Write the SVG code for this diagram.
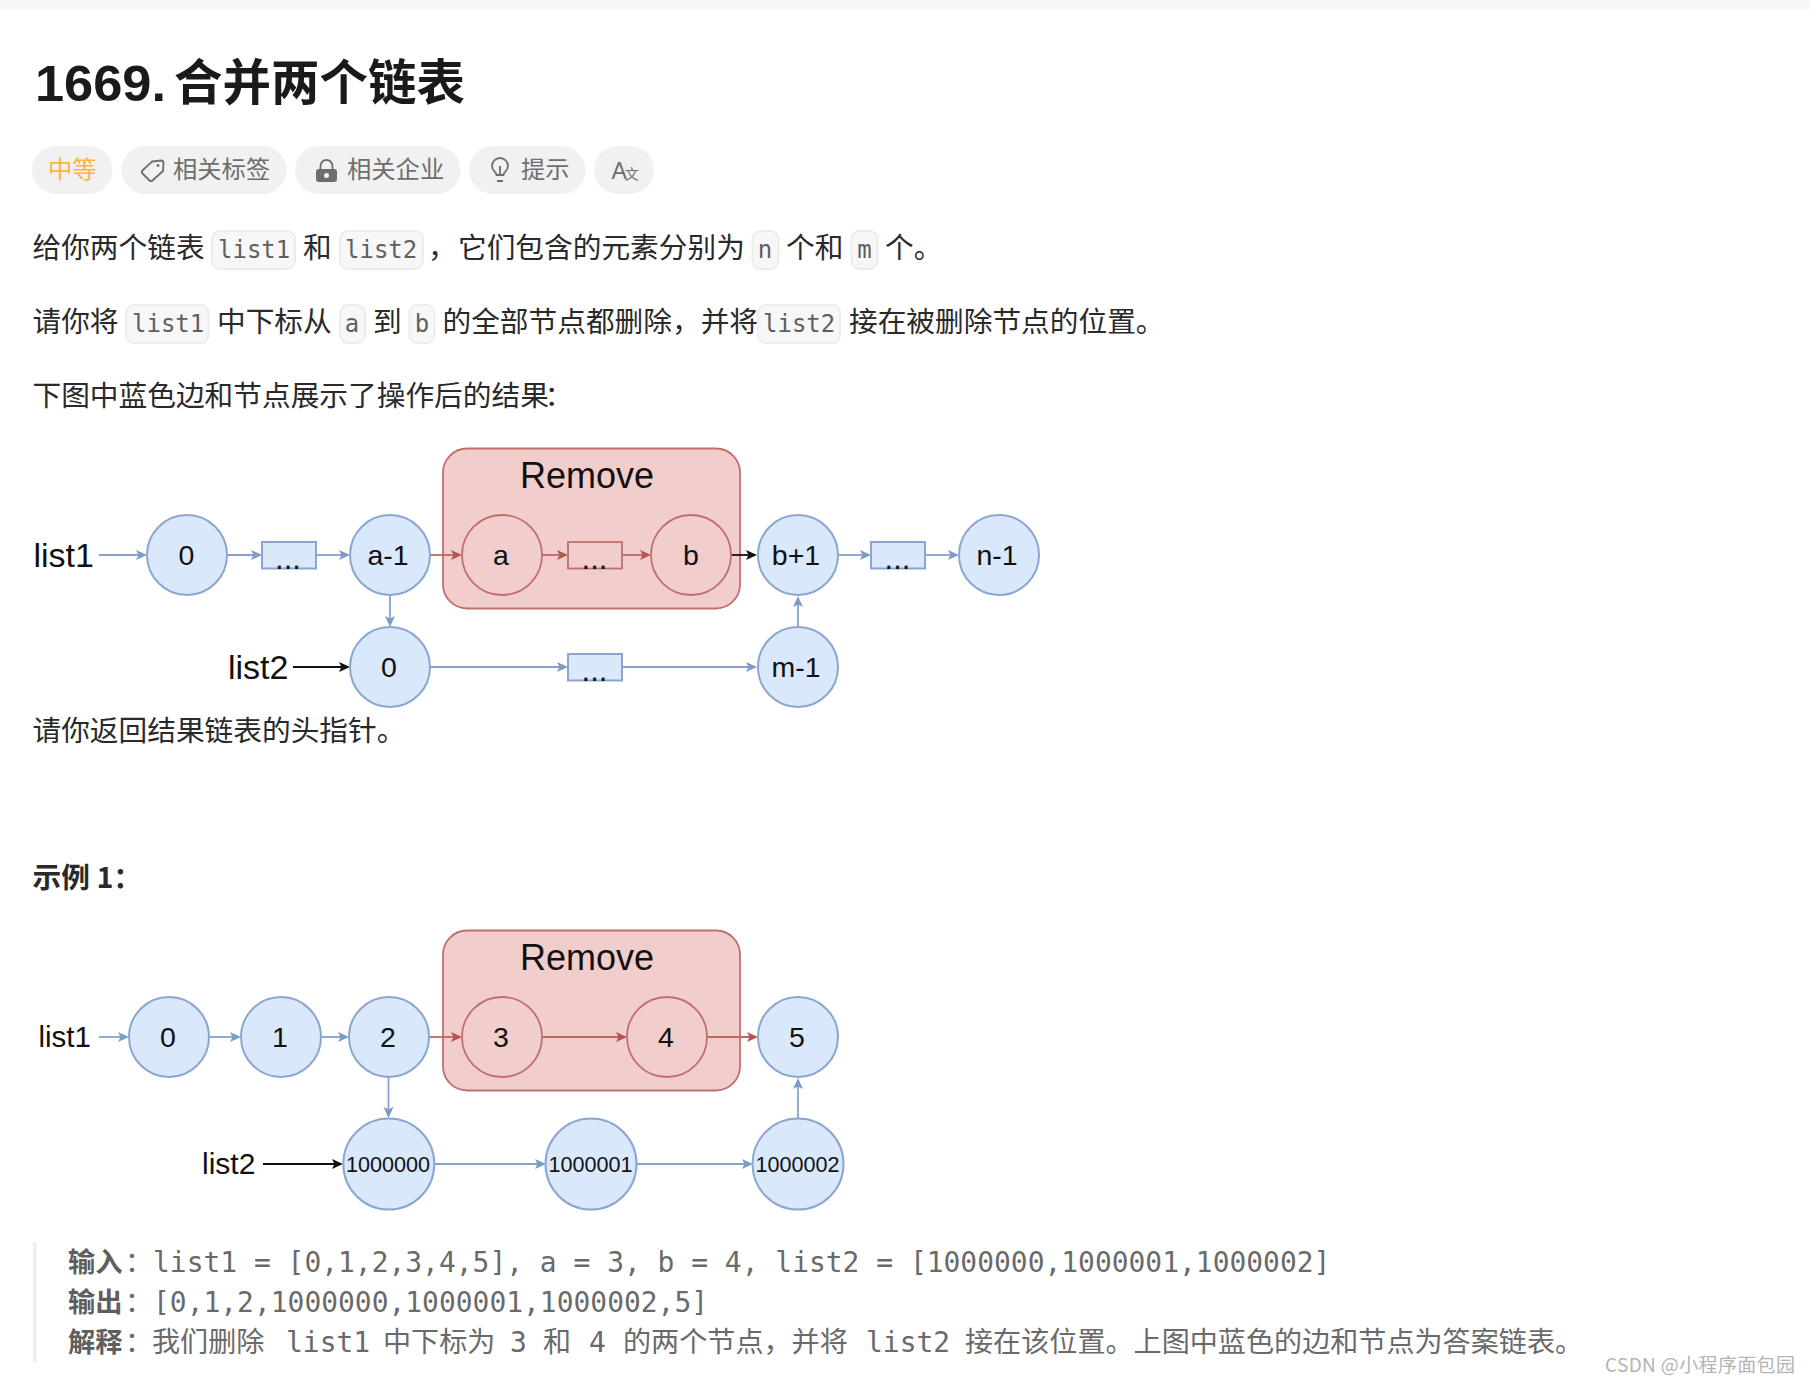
<svg xmlns="http://www.w3.org/2000/svg" width="1810" height="1384" viewBox="0 0 1810 1384">
<style>
.cjk{font-family:"Noto Sans CJK SC","Liberation Sans",sans-serif}
.body{font-family:"Noto Sans CJK SC","Liberation Sans",sans-serif;font-size:28.7px;fill:#2a2a2a}
.code{font-family:"DejaVu Sans Mono","Liberation Mono",monospace;font-size:24px;fill:#5f5f5f}
.pillc{fill:#f7f7f7;stroke:#ececec;stroke-width:2}
.tag{fill:#f1f1f2}
.tagt{font-family:"Noto Sans CJK SC",sans-serif;font-size:24.3px;fill:#6e6e6e}
.q{font-family:"DejaVu Sans Mono","Noto Sans CJK SC",monospace;font-size:27.95px;fill:#6a6a6a}
.qc{font-family:"Noto Sans CJK SC",sans-serif;font-size:28.1px;fill:#6a6a6a}
.qb{font-family:"Noto Sans CJK SC",sans-serif;font-size:27.3px;font-weight:700;fill:#5f5f5f}
.n{fill:#dae8fc;stroke:#8ba6d0;stroke-width:2}
.r{fill:none;stroke:#c0706c;stroke-width:1.8}
.rm{fill:#f1cecc;stroke:#c0706c;stroke-width:1.8}
.l{font-family:"Liberation Sans",Arial,sans-serif;fill:#111;text-anchor:middle;font-size:28.5px}
.rt{font-size:36px}
.dots{font-size:31px}
.big{font-size:34px;text-anchor:start}
.mid{font-size:30px;text-anchor:start}
.m{font-size:21.6px}
.e{fill:none;stroke-width:1.8}
.b{stroke:#86a2cd;marker-end:url(#ab)}
.d{stroke:#bf6662;marker-end:url(#ad)}
.k{stroke:#111;marker-end:url(#ak)}
.ico{fill:none;stroke:#6e6e6e;stroke-width:1.8}
</style>
<defs>
<marker id="ab" markerUnits="userSpaceOnUse" markerWidth="12" markerHeight="12" refX="9" refY="6" orient="auto"><path d="M0 1 L11 6 L0 11 L2.500 6 Z" fill="#7d9ac8"/></marker>
<marker id="ad" markerUnits="userSpaceOnUse" markerWidth="12" markerHeight="12" refX="9" refY="6" orient="auto"><path d="M0 1 L11 6 L0 11 L2.500 6 Z" fill="#b85450"/></marker>
<marker id="ak" markerUnits="userSpaceOnUse" markerWidth="12" markerHeight="12" refX="9" refY="6" orient="auto"><path d="M0 1 L11 6 L0 11 L2.500 6 Z" fill="#111"/></marker>
</defs>
<rect width="1810" height="1384" fill="#fff"/>
<rect width="1810" height="10" fill="#f7f7f8"/>

<g id="title">
<text x="35" y="101" font-family="Liberation Sans,Arial,sans-serif" font-weight="700" font-size="50" fill="#1a1a1a" textLength="131" lengthAdjust="spacingAndGlyphs">1669.</text>
<text x="174" y="100" class="cjk" font-weight="700" font-size="48.500" fill="#1a1a1a">合并两个链表</text>
</g>

<g id="tags">
<rect class="tag" x="32" y="146" width="80.500" height="48" rx="24"/>
<text x="48" y="178" class="tagt" style="fill:#fbb53c">中等</text>
<rect class="tag" x="121.500" y="146" width="165" height="48" rx="24"/>
<path class="ico" d="M152 161.500 L161 160.500 Q163.500 160.500 163.500 163 L163 171 L152.500 180.500 Q151 181.800 149.500 180.500 L142.500 173.500 Q141 172 142.500 170.500 Z"/>
<circle cx="158" cy="165.500" r="1.400" fill="#6e6e6e"/>
<text x="173" y="178" class="tagt">相关标签</text>
<rect class="tag" x="295" y="146" width="165.500" height="48" rx="24"/>
<path class="ico" d="M320.500 170 V166 A6 6 0 0 1 332.500 166 V170" stroke-width="2.400"/>
<rect x="316" y="169" width="21" height="13" rx="3" fill="#6e6e6e"/>
<circle cx="326.500" cy="175.500" r="2.500" fill="#f1f1f2"/>
<text x="347" y="178" class="tagt">相关企业</text>
<rect class="tag" x="469" y="146" width="116.500" height="48" rx="24"/>
<path class="ico" d="M496.500 175 C496.500 172 492 171 492 166 A8 8 0 0 1 508 166 C508 171 503.500 172 503.500 175 Z M497 181 H503 M500 175 V166"/>
<text x="521" y="178" class="tagt">提示</text>
<rect class="tag" x="594" y="146" width="60" height="48" rx="24"/>
<text x="611.500" y="179" class="cjk" fill="#6e6e6e"><tspan font-family="Liberation Sans,sans-serif" font-size="23">A</tspan><tspan font-size="14" dx="-2">文</tspan></text>
</g>

<g id="para1">
<text x="32.500" y="258" class="body">给你两个链表</text>
<rect class="pillc" x="212" y="231" width="83" height="38" rx="8"/>
<text x="218" y="258" class="code">list1</text>
<text x="303" y="258" class="body">和</text>
<rect class="pillc" x="340" y="231" width="83" height="38" rx="8"/>
<text x="345" y="258" class="code">list2</text>
<text x="428" y="258" class="body">，</text>
<text x="458" y="258" class="body">它们包含的元素分别为</text>
<rect class="pillc" x="752.500" y="231" width="26" height="38" rx="8"/>
<text x="765" y="258" class="code" text-anchor="middle">n</text>
<text x="786" y="258" class="body">个和</text>
<rect class="pillc" x="851.500" y="231" width="26" height="38" rx="8"/>
<text x="864.500" y="258" class="code" text-anchor="middle">m</text>
<text x="885" y="258" class="body">个。</text>
</g>

<g id="para2">
<text x="32.500" y="332" class="body">请你将</text>
<rect class="pillc" x="126" y="305" width="82.500" height="38" rx="8"/>
<text x="132" y="332" class="code">list1</text>
<text x="217" y="332" class="body">中下标从</text>
<rect class="pillc" x="340" y="305" width="25" height="38" rx="8"/>
<text x="352" y="332" class="code" text-anchor="middle">a</text>
<text x="373" y="332" class="body">到</text>
<rect class="pillc" x="409.500" y="305" width="25" height="38" rx="8"/>
<text x="422" y="332" class="code" text-anchor="middle">b</text>
<text x="442.500" y="332" class="body">的全部节点都删除，并将</text>
<rect class="pillc" x="758" y="305" width="82" height="38" rx="8"/>
<text x="763" y="332" class="code">list2</text>
<text x="849" y="332" class="body">接在被删除节点的位置。</text>
</g>

<g id="para3">
<text x="32.500" y="406" class="body">下图中蓝色边和节点展示了操作后的结果<tspan dx="-4.500">：</tspan></text>
</g>

<g id="diagram1">
<g id="remove1"><rect class="rm" x="443" y="448.500" width="297" height="160" rx="24"/><text class="l rt" x="587" y="488">Remove</text></g>
<g class="connectors" id="connectors1">
<line class="e b" x1="99" y1="555" x2="145" y2="555"/>
<line class="e b" x1="227" y1="555" x2="260" y2="555"/>
<line class="e b" x1="316" y1="555" x2="348" y2="555"/>
<line class="e d" x1="430" y1="555" x2="460" y2="555"/>
<line class="e d" x1="542" y1="555" x2="566" y2="555"/>
<line class="e d" x1="622" y1="555" x2="649" y2="555"/>
<line class="e k" x1="731" y1="555" x2="755" y2="555"/>
<line class="e b" x1="838" y1="555" x2="869" y2="555"/>
<line class="e b" x1="925" y1="555" x2="957" y2="555"/>
<line class="e b" x1="390" y1="595" x2="390" y2="625"/>
<line class="e k" x1="293" y1="667" x2="348" y2="667"/>
<line class="e b" x1="430" y1="667" x2="566" y2="667"/>
<line class="e b" x1="622" y1="667" x2="755" y2="667"/>
<line class="e b" x1="798" y1="627" x2="798" y2="598"/>
</g>
<text class="l big" x="33.500" y="567">list1</text>
<text class="l big" x="228" y="679">list2</text>
<g id="d1-n0"><circle class="n" cx="187" cy="555" r="40"/><text class="l" x="186.500" y="565">0</text></g>
<g id="d1-b1"><rect class="n" x="262" y="542" width="54" height="26.500"/><text class="l dots" x="288" y="568.500">...</text></g>
<g id="d1-am1"><circle class="n" cx="390" cy="555" r="40"/><text class="l" x="388" y="565">a-1</text></g>
<g id="d1-a"><circle class="r" cx="502" cy="555" r="40"/><text class="l" x="501" y="565">a</text></g>
<g id="d1-b2"><rect class="r" x="568" y="542" width="54" height="26.500"/><text class="l dots" x="594.500" y="568.500">...</text></g>
<g id="d1-b"><circle class="r" cx="691" cy="555" r="40"/><text class="l" x="691" y="565">b</text></g>
<g id="d1-bp1"><circle class="n" cx="798" cy="555" r="40"/><text class="l" x="796" y="565">b+1</text></g>
<g id="d1-b3"><rect class="n" x="871" y="542" width="54" height="26.500"/><text class="l dots" x="897.500" y="568.500">...</text></g>
<g id="d1-nm1"><circle class="n" cx="999" cy="555" r="40"/><text class="l" x="997" y="565">n-1</text></g>
<g id="d1-l0"><circle class="n" cx="390" cy="667" r="40"/><text class="l" x="389" y="677">0</text></g>
<g id="d1-b4"><rect class="n" x="568" y="654" width="54" height="26.500"/><text class="l dots" x="594.500" y="680.500">...</text></g>
<g id="d1-mm1"><circle class="n" cx="798" cy="667" r="40"/><text class="l" x="796" y="677">m-1</text></g>
</g>

<text x="32.500" y="741" class="body">请你返回结果链表的头指针。</text>
<text x="32.500" y="888" class="body" font-weight="700">示例 1：</text>

<g id="diagram2">
<g id="remove2"><rect class="rm" x="443" y="930.500" width="297" height="160" rx="24"/><text class="l rt" x="587" y="970">Remove</text></g>
<g class="connectors" id="connectors2">
<line class="e b" x1="99" y1="1037" x2="127" y2="1037"/>
<line class="e b" x1="209" y1="1037" x2="239" y2="1037"/>
<line class="e b" x1="321" y1="1037" x2="347" y2="1037"/>
<line class="e d" x1="429" y1="1037" x2="460" y2="1037"/>
<line class="e d" x1="542" y1="1037" x2="625" y2="1037"/>
<line class="e d" x1="707" y1="1037" x2="756" y2="1037"/>
<line class="e b" x1="388.500" y1="1077" x2="388.500" y2="1116"/>
<line class="e b" x1="798" y1="1118" x2="798" y2="1080"/>
<line class="e k" x1="263" y1="1164" x2="341" y2="1164"/>
<line class="e b" x1="434" y1="1164" x2="544" y2="1164"/>
<line class="e b" x1="637" y1="1164" x2="751" y2="1164"/>
</g>
<text class="l mid" x="38.500" y="1047" style="font-size:29.500px">list1</text>
<text class="l mid" x="202" y="1174">list2</text>
<g id="d2-n0"><circle class="n" cx="169" cy="1037" r="40"/><text class="l" x="168" y="1047">0</text></g>
<g id="d2-n1"><circle class="n" cx="281" cy="1037" r="40"/><text class="l" x="280" y="1047">1</text></g>
<g id="d2-n2"><circle class="n" cx="389" cy="1037" r="40"/><text class="l" x="388" y="1047">2</text></g>
<g id="d2-n3"><circle class="r" cx="502" cy="1037" r="40"/><text class="l" x="501" y="1047">3</text></g>
<g id="d2-n4"><circle class="r" cx="667" cy="1037" r="40"/><text class="l" x="666" y="1047">4</text></g>
<g id="d2-n5"><circle class="n" cx="798" cy="1037" r="40"/><text class="l" x="797" y="1047">5</text></g>
<g id="d2-m0"><circle class="n" cx="388.800" cy="1164" r="45.500"/><text class="l m" x="388" y="1171.500">1000000</text></g>
<g id="d2-m1"><circle class="n" cx="591" cy="1164" r="45.500"/><text class="l m" x="590.500" y="1171.500">1000001</text></g>
<g id="d2-m2"><circle class="n" cx="798" cy="1164" r="45.500"/><text class="l m" x="797.500" y="1171.500">1000002</text></g>
</g>

<g id="quote">
<rect x="33" y="1242" width="3.500" height="120" fill="#eeeeee"/>
<text x="68" y="1272" class="qb">输入</text><text x="125" y="1272" class="qc">：</text>
<text x="153" y="1272" class="q">list1 = [0,1,2,3,4,5], a = 3, b = 4, list2 = [1000000,1000001,1000002]</text>
<text x="68" y="1312" class="qb">输出</text><text x="125" y="1312" class="qc">：</text>
<text x="153" y="1312" class="q">[0,1,2,1000000,1000001,1000002,5]</text>
<text x="68" y="1352" class="qb">解释</text><text x="125" y="1352" class="qc">：</text>
<text x="152" y="1352" class="qc">我们删除</text>
<text x="286" y="1352" class="q">list1</text>
<text x="383" y="1352" class="qc">中下标为</text>
<text x="510" y="1352" class="q">3</text>
<text x="543" y="1352" class="qc">和</text>
<text x="589" y="1352" class="q">4</text>
<text x="623" y="1352" class="qc">的两个节点，并将</text>
<text x="866" y="1352" class="q">list2</text>
<text x="965" y="1352" class="qc">接在该位置。上图中蓝色的边和节点为答案链表。</text>
</g>

<text id="watermark" x="1605" y="1372" font-family="Noto Sans CJK SC,sans-serif" font-size="19" fill="#b4b4b4" textLength="190">CSDN @小程序面包园</text>
</svg>
